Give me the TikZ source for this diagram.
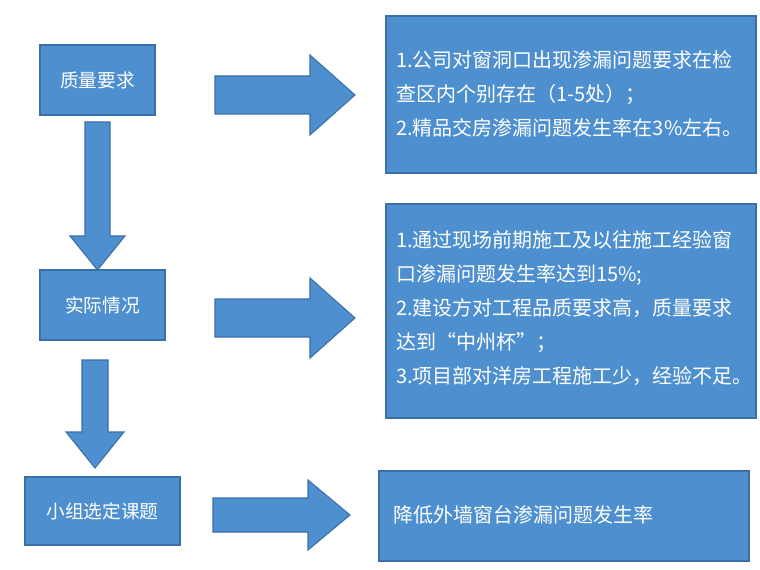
\documentclass[tikz,border=0pt]{standalone}
\usepackage{fontspec}
\setmainfont{Noto Sans CJK SC}
\usetikzlibrary{shapes.arrows}
\definecolor{bfill}{HTML}{4E90CF}
\definecolor{bedge}{HTML}{3B6FA8}
\tikzset{
  box/.style={draw=bedge, line width=1.2pt, fill=bfill, text=white, inner sep=0pt},
  rbox/.style={box, anchor=north west},
  txt/.style={text=white, align=left, anchor=north west, font=\fontsize{15}{25.5}\selectfont, inner sep=0pt},
  ltxt/.style={text=white, font=\fontsize{14}{17}\selectfont},
  barrow/.style={fill=bfill, draw=bedge, line width=0.8pt}
}
\begin{document}
\begin{tikzpicture}[x=0.75pt,y=-0.75pt]
\useasboundingbox (0,0) rectangle (760,570);
\fill[white] (0,0) rectangle (760,570);
% left boxes
\node[box, minimum width=86.25pt, minimum height=52.5pt] (q) at (97.5,80) {};
\node[ltxt] at (q) {质量要求};
\node[box, minimum width=93.75pt, minimum height=52.5pt] (s) at (102.5,305) {};
\node[ltxt] at (s) {实际情况};
\node[box, minimum width=116.25pt, minimum height=51pt] (k) at (102.5,511) {};
\node[ltxt] at (k) {小组选定课题};
% right boxes
\node[rbox, minimum width=277.5pt, minimum height=117.75pt] (r1) at (385,15) {};
\node[txt] at (396,50) {1.公司对窗洞口出现渗漏问题要求在检\\查区内个别存在（1-5处）；\\2.精品交房渗漏问题发生率在3\%左右。};
\node[rbox, minimum width=277.5pt, minimum height=160.5pt] (r2) at (385,203) {};
\node[txt] at (396,230) {1.通过现场前期施工及以往施工经验窗\\口渗漏问题发生率达到15\%;\\2.建设方对工程品质要求高，质量要求\\达到“中州杯”；\\3.项目部对洋房工程施工少，经验不足。};
\node[rbox, minimum width=277.5pt, minimum height=67.5pt] (r3) at (378,470) {};
\node[txt, anchor=west] at (393,515) {降低外墙窗台渗漏问题发生率};
% right arrows
\draw[barrow] (215,76) -- (310,76) -- (310,55) -- (355,95) -- (310,135) -- (310,114) -- (215,114) -- cycle;
\draw[barrow] (215,299) -- (310,299) -- (310,278) -- (355,318) -- (310,358) -- (310,337) -- (215,337) -- cycle;
\draw[barrow] (213,498) -- (308,498) -- (308,480) -- (350,515) -- (308,550) -- (308,532) -- (213,532) -- cycle;
% down arrows
\draw[barrow] (85,122) -- (110,122) -- (110,236) -- (125,236) -- (97.5,270) -- (70,236) -- (85,236) -- cycle;
\draw[barrow] (82,360) -- (108,360) -- (108,432) -- (124,432) -- (95,468) -- (66,432) -- (82,432) -- cycle;
\end{tikzpicture}
\end{document}
